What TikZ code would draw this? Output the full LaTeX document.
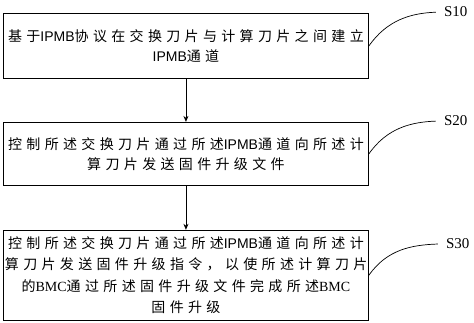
\documentclass[tikz,border=0pt]{standalone}
\usepackage{fontspec}
\setmainfont{Liberation Serif}
\setsansfont{Liberation Sans}
\newfontfamily\cjk[LetterSpace=31]{Noto Sans CJK SC}
\usetikzlibrary{positioning, arrows.meta, calc}

\newcommand{\ipmb}{{\sffamily IPMB}}
\newcommand{\bmc}{{\rmfamily BMC}}

\begin{document}
\begin{tikzpicture}[
    node distance=43pt,
    stepbox/.style={draw, line width=0.9pt, text width=362pt, align=center, inner sep=1.5pt,
                    font=\fontsize{14}{20}\selectfont\cjk},
    steplabel/.style={font=\fontsize{15}{17}\selectfont, inner sep=2pt},
    arr/.style={-{Stealth[length=6pt, width=5pt]}, line width=0.8pt},
    lead/.style={line width=0.7pt, shorten >=6pt},
  ]

  % ── Steps ──
  \node[stepbox, minimum height=65pt] (s10box) {基于\ipmb 协议在交换刀片与计算刀片之间建立\\\ipmb 通道};
  \node[stepbox, minimum height=63pt, below=of s10box] (s20box)
    {控制所述交换刀片通过所述\ipmb 通道向所述计\\算刀片发送固件升级文件};
  \node[stepbox, minimum height=90pt, below=44pt of s20box, font=\fontsize{14}{21.3}\selectfont\cjk] (s30box)
    {控制所述交换刀片通过所述\ipmb 通道向所述计\\算刀片发送固件升级指令，以使所述计算刀片\\的\bmc 通过所述固件升级文件完成所述\bmc\\固件升级};

  % ── Step labels ──
  \node[steplabel, right=73pt of s10box.north east, anchor=west, yshift=1pt] (s10) {S10};
  \node[steplabel, right=73pt of s20box.north east, anchor=west, yshift=1pt] (s20) {S20};
  \node[steplabel, right=75pt of s30box.north east, anchor=west, yshift=-14pt] (s30) {S30};

  % ── Flow ──
  \draw[arr] (s10box.south) -- (s20box.north);
  \draw[arr] (s20box.south) -- (s30box.north);

  % ── Leaders ──
  \draw[lead] (s10box.east) to[out=55, in=182] (s10.west);
  \draw[lead] (s20box.east) to[out=55, in=182] (s20.west);
  \draw[lead] (s30box.east) to[out=55, in=182] (s30.west);

  \useasboundingbox ($(s10box.north west)+(-3pt,13pt)$) rectangle ($(s10box.north west)+(471pt,-309pt)$);
\end{tikzpicture}
\end{document}
